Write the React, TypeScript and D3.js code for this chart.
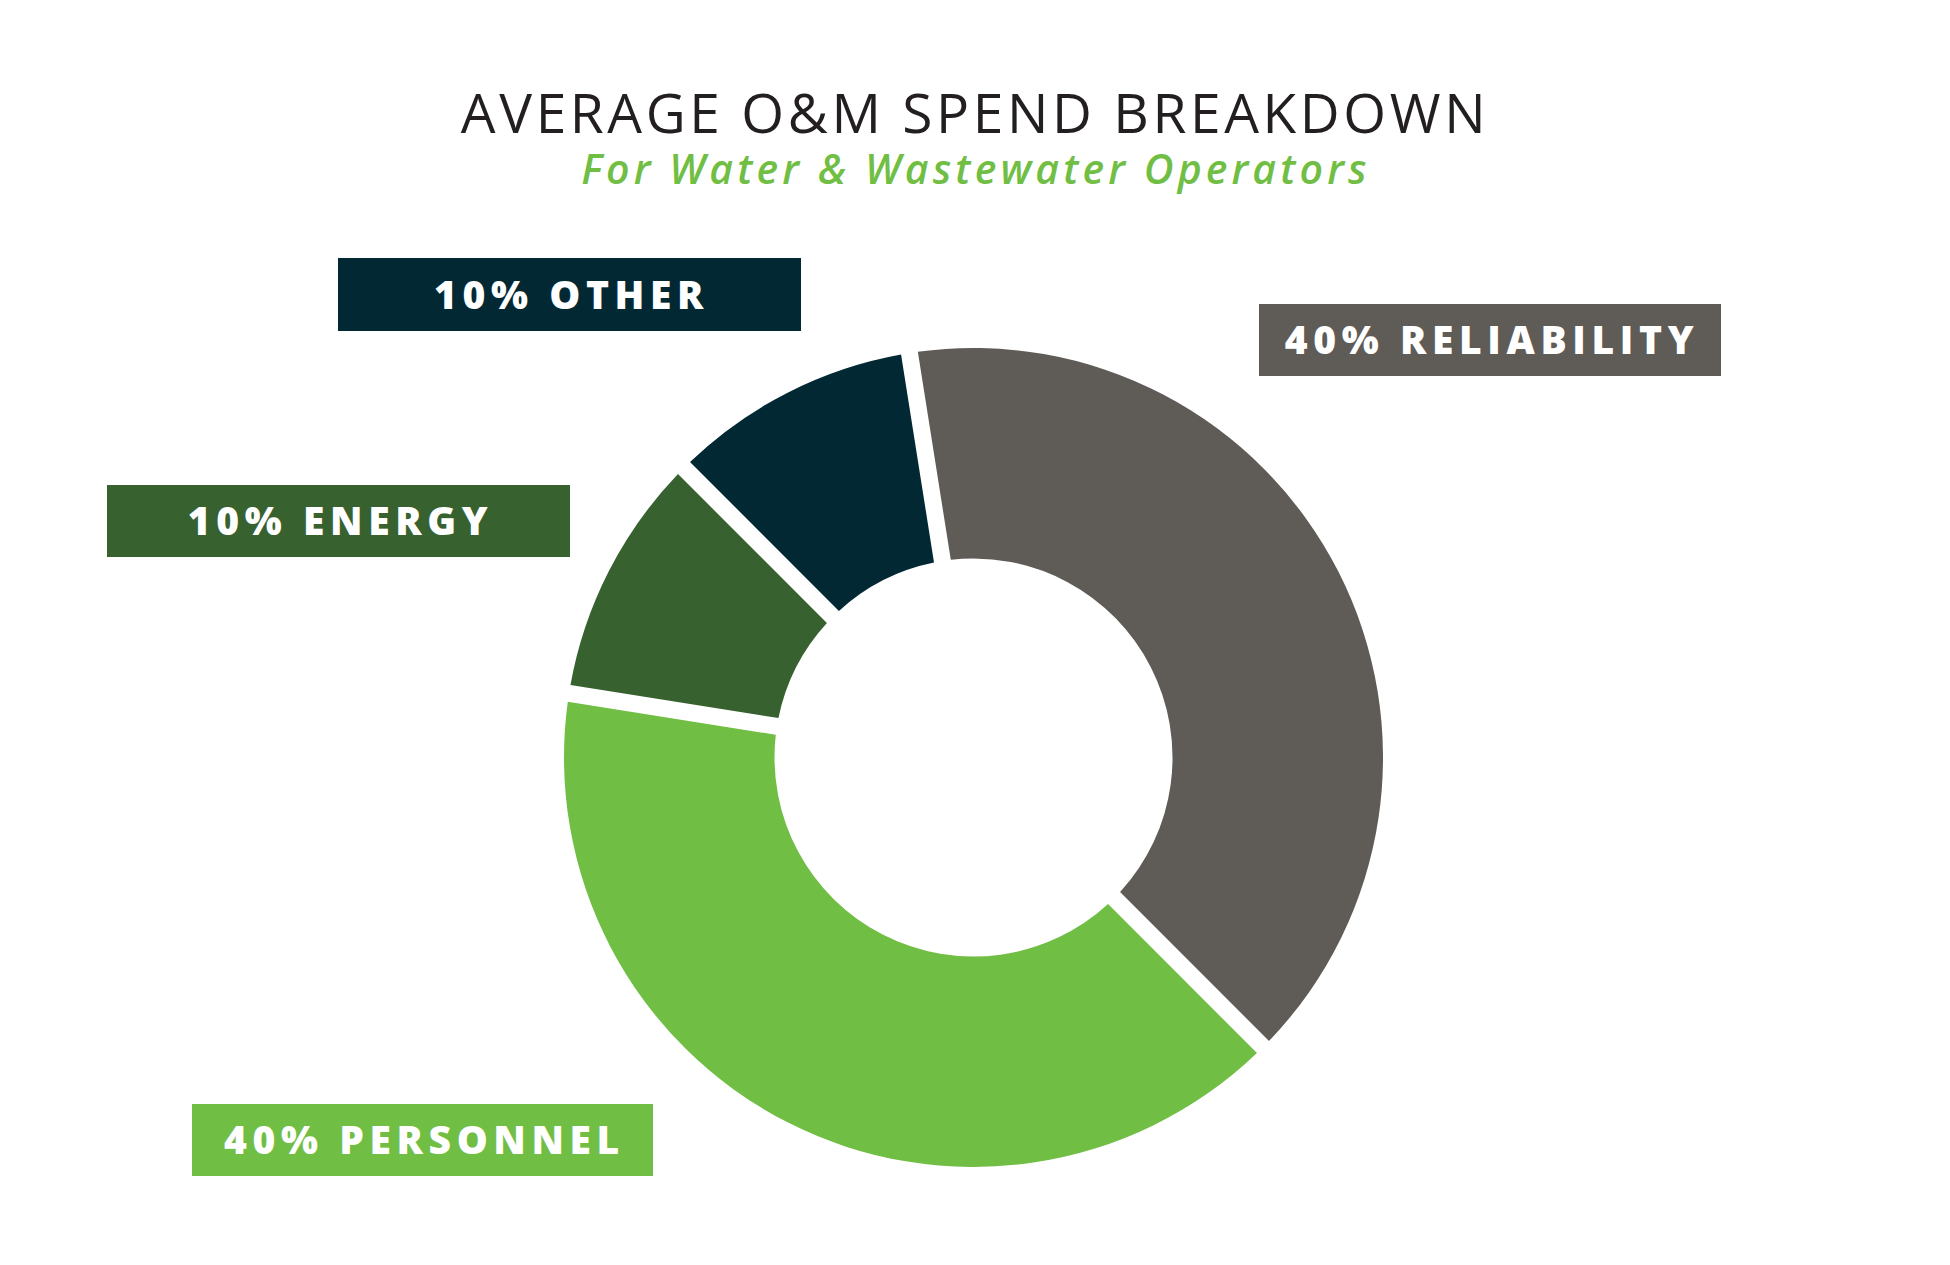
import React from 'react';
import * as d3 from 'd3';

const categories = ['RELIABILITY', 'PERSONNEL', 'ENERGY', 'OTHER'];
const shares = [40, 40, 10, 10];
const colors = ['#5f5b57', '#71be45', '#386130', '#022933'];

// label boxes, in page pixels (x, y, width, height)
const labelBoxes = [
    [1259, 304, 462, 72],
    [192, 1104, 461, 72],
    [107, 485, 463, 72],
    [338, 258, 463, 73]
];

const W = 1950;
const H = 1265;
const cx = 973.5;
const cy = 757.5;
const outerR = 409.5;
const innerR = 199;
const gap = 17;
const startDeg = -9;

const App = () => {
    const pie = d3.pie<number>()
        .sort(null)
        .value(d => d)
        .startAngle((startDeg * Math.PI) / 180)
        .endAngle(((startDeg + 360) * Math.PI) / 180);

    const arc = d3.arc<d3.PieArcDatum<number>>()
        .innerRadius(innerR)
        .outerRadius(outerR)
        .padRadius(outerR)
        .padAngle(gap / outerR);

    const arcs = pie(shares);

    return (
        <svg width={W} height={H} style={{ position: 'absolute', left: 0, top: 0, background: '#fff' }}>
            <text x={975} y={133} textAnchor="middle" fill="#231f20"
                style={{ fontFamily: '"Open Sans", sans-serif', fontSize: 55, fontWeight: 400, letterSpacing: 3.6 }}>
                AVERAGE O&amp;M SPEND BREAKDOWN
            </text>
            <text x={976} y={184} textAnchor="middle" fill="#71be45"
                style={{ fontFamily: '"Open Sans", sans-serif', fontSize: 41, fontWeight: 600, fontStyle: 'italic', letterSpacing: 4.1 }}>
                For Water &amp; Wastewater Operators
            </text>

            <g transform={`translate(${cx},${cy})`}>
                {arcs.map((a, i) => (
                    <path key={categories[i]} d={arc(a) ?? ''} fill={colors[i]} />
                ))}
            </g>

            {categories.map((c, i) => {
                const [bx, by, bw, bh] = labelBoxes[i];
                return (
                    <g key={c}>
                        <rect x={bx} y={by} width={bw} height={bh} fill={colors[i]} />
                        <text x={bx + bw / 2 + 2} y={by + bh / 2 + 14} textAnchor="middle" fill="#fff"
                            style={{ fontFamily: '"Open Sans", sans-serif', fontSize: 39, fontWeight: 800, letterSpacing: 5.6 }}>
                            {`${shares[i]}% ${c}`}
                        </text>
                    </g>
                );
            })}
        </svg>
    );
};

export default App;
